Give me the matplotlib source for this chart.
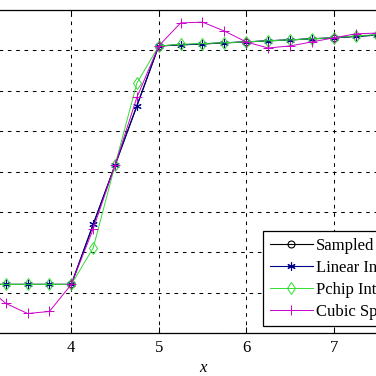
import numpy as np
import matplotlib
matplotlib.use("Agg")
import matplotlib.pyplot as plt

# ---- data (y in arbitrary grid units) ----
x_sampled = [3, 4, 5, 6, 7, 8]
y_sampled = [1.21, 1.21, 7.11, 7.21, 7.31, 7.45]

x_fine = [3.0, 3.25, 3.5, 3.75, 4.0, 4.25, 4.5, 4.75, 5.0, 5.25, 5.5,
          5.75, 6.0, 6.25, 6.5, 6.75, 7.0, 7.25, 7.5, 7.75, 8.0]
y_linear = [1.21, 1.21, 1.21, 1.21, 1.21, 2.70, 4.16, 5.62, 7.11, 7.14, 7.16,
            7.19, 7.21, 7.24, 7.26, 7.29, 7.31, 7.35, 7.38, 7.42, 7.45]
y_pchip = [1.21, 1.21, 1.21, 1.21, 1.21, 2.11, 4.16, 6.19, 7.11, 7.15, 7.17,
           7.19, 7.21, 7.24, 7.26, 7.29, 7.31, 7.36, 7.39, 7.42, 7.45]
y_spline = [1.21, 0.74, 0.49, 0.54, 1.21, 2.58, 4.16, 5.84, 7.11, 7.68, 7.70,
            7.48, 7.21, 7.06, 7.11, 7.21, 7.31, 7.41, 7.43, 7.44, 7.45]

x_ticks = [3, 4, 5, 6, 7, 8]
x_ticklabels = ['', '4', '5', '6', '7', '']
labels = ["Sampled", "Linear In", "Pchip Int", "Cubic Sp"]

plt.rcParams['font.family'] = ['Liberation Serif', 'DejaVu Serif']

fig = plt.figure(figsize=(3.76, 3.76), dpi=100)
W = H = 376.0
ax = fig.add_axes([(71.3 - 87.45) / W, (H - 333.3) / H, 5 * 87.45 / W, 323.3 / H])

ax.plot(x_sampled, y_sampled, color='black', marker='o', markersize=5,
        markerfacecolor='none', markeredgewidth=0.8, linewidth=0.8, label=labels[0])
ax.plot(x_fine, y_linear, color='#00008B', marker=(6, 2, 0), markersize=6,
        markeredgewidth=0.8, linewidth=0.8, label=labels[1])
ax.plot(x_fine, y_pchip, color='#33dd33', marker='d', markersize=6,
        markerfacecolor='none', markeredgewidth=0.7, linewidth=0.7, label=labels[2])
ax.plot(x_fine, y_spline, color='#cc00cc', marker='+', markersize=7,
        markeredgewidth=0.7, linewidth=0.7, label=labels[3])

ax.set_xlim(3, 8)
ax.set_ylim(0, 8)
ax.set_xticks(x_ticks)
ax.set_xticklabels(x_ticklabels)
ax.set_yticks(np.arange(0, 9, 1))
ax.grid(True, color='black', linestyle=(0, (3.5, 4.5)), linewidth=0.75)
ax.tick_params(direction='in', top=True, right=True, length=4, width=0.75,
               labelsize=12, pad=5, labelleft=False)
for s in ax.spines.values():
    s.set_linewidth(0.9)
ax.set_xlabel('x', fontstyle='italic', fontsize=12, labelpad=3)

leg = ax.legend(loc='upper left', bbox_to_anchor=(263 / W, 1 - 231 / H),
                bbox_transform=fig.transFigure, borderaxespad=0, fontsize=12,
                fancybox=False, framealpha=1, edgecolor='black',
                handlelength=2.6, handletextpad=0.2, borderpad=0.4,
                labelspacing=0.36)
leg.get_frame().set_linewidth(0.9)

fig.savefig('out.png', dpi=100)
